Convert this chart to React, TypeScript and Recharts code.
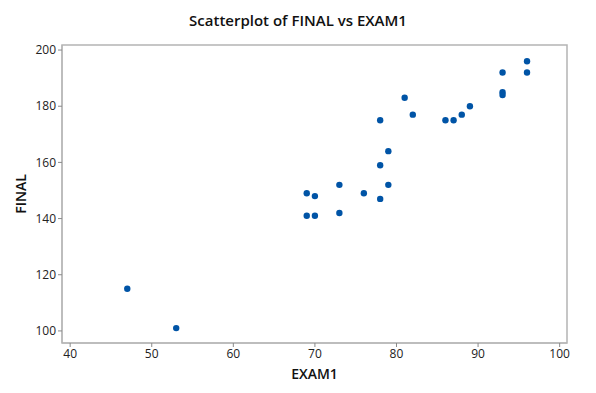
import React from "react";
import {
  ScatterChart,
  Scatter,
  XAxis,
  YAxis,
  ReferenceArea,
} from "recharts";

const exam1: number[] = [47, 53, 69, 69, 70, 70, 73, 73, 76, 78, 78, 78, 79, 79, 81, 82, 86, 87, 88, 89, 93, 93, 93, 96, 96];
const final: number[] = [115, 101, 149, 141, 148, 141, 152, 142, 149, 175, 159, 147, 164, 152, 183, 177, 175, 175, 177, 180, 192, 185, 184, 196, 192];

const xTicks: number[] = [40, 50, 60, 70, 80, 90, 100];
const yTicks: number[] = [100, 120, 140, 160, 180, 200];

const points = exam1.map((x, i) => ({ exam1: x, final: final[i] }));

const FONT = "'Segoe UI', 'Open Sans', 'Noto Sans', sans-serif";
const DOT = "#0054a6";

const Dot = (props: any) => {
  const { cx, cy } = props;
  return <circle cx={cx} cy={cy} r={3.2} fill={DOT} />;
};

const App = () => {
  return (
    <div
      style={{
        position: "absolute",
        left: 0,
        top: 0,
        width: 596,
        height: 393,
        background: "#fff",
        fontFamily: FONT,
      }}
    >
      <div
        style={{
          position: "absolute",
          top: 10,
          left: 0,
          width: 596,
          textAlign: "center",
          fontSize: 15,
          fontWeight: 600,
          color: "#111",
        }}
      >
        Scatterplot of FINAL vs EXAM1
      </div>
      <ScatterChart
        width={596}
        height={393}
        margin={{ top: 45, right: 29, left: 0, bottom: 0 }}
      >
        <XAxis
          type="number"
          dataKey="exam1"
          domain={[39, 100.9]}
          ticks={xTicks}
          height={50}
          stroke="#b4b4b4"
          tickLine={{ stroke: "#8a8a8a" }}
          tickSize={4}
          tick={{ fill: "#222", fontSize: 12, fontFamily: FONT }}
          label={{
            value: "EXAM1",
            position: "insideBottom",
            offset: 14,
            fill: "#111",
            fontSize: 14,
            fontWeight: 600,
            fontFamily: FONT,
          }}
        />
        <YAxis
          type="number"
          dataKey="final"
          domain={[95.7, 201.8]}
          ticks={yTicks}
          width={62}
          stroke="#b4b4b4"
          tickLine={{ stroke: "#8a8a8a" }}
          tickSize={4}
          tick={{ fill: "#222", fontSize: 12, fontFamily: FONT }}
          label={{
            value: "FINAL",
            angle: -90,
            position: "insideLeft",
            offset: 21,
            fill: "#111",
            fontSize: 14,
            fontWeight: 600,
            fontFamily: FONT,
            style: { textAnchor: "middle" },
          }}
        />
        <ReferenceArea
          x1={39}
          x2={100.9}
          y1={95.7}
          y2={201.8}
          fill="none"
          stroke="#b4b4b4"
          strokeWidth={1.5}
        />
        <Scatter data={points} shape={<Dot />} isAnimationActive={false} />
      </ScatterChart>
    </div>
  );
};

export default App;
